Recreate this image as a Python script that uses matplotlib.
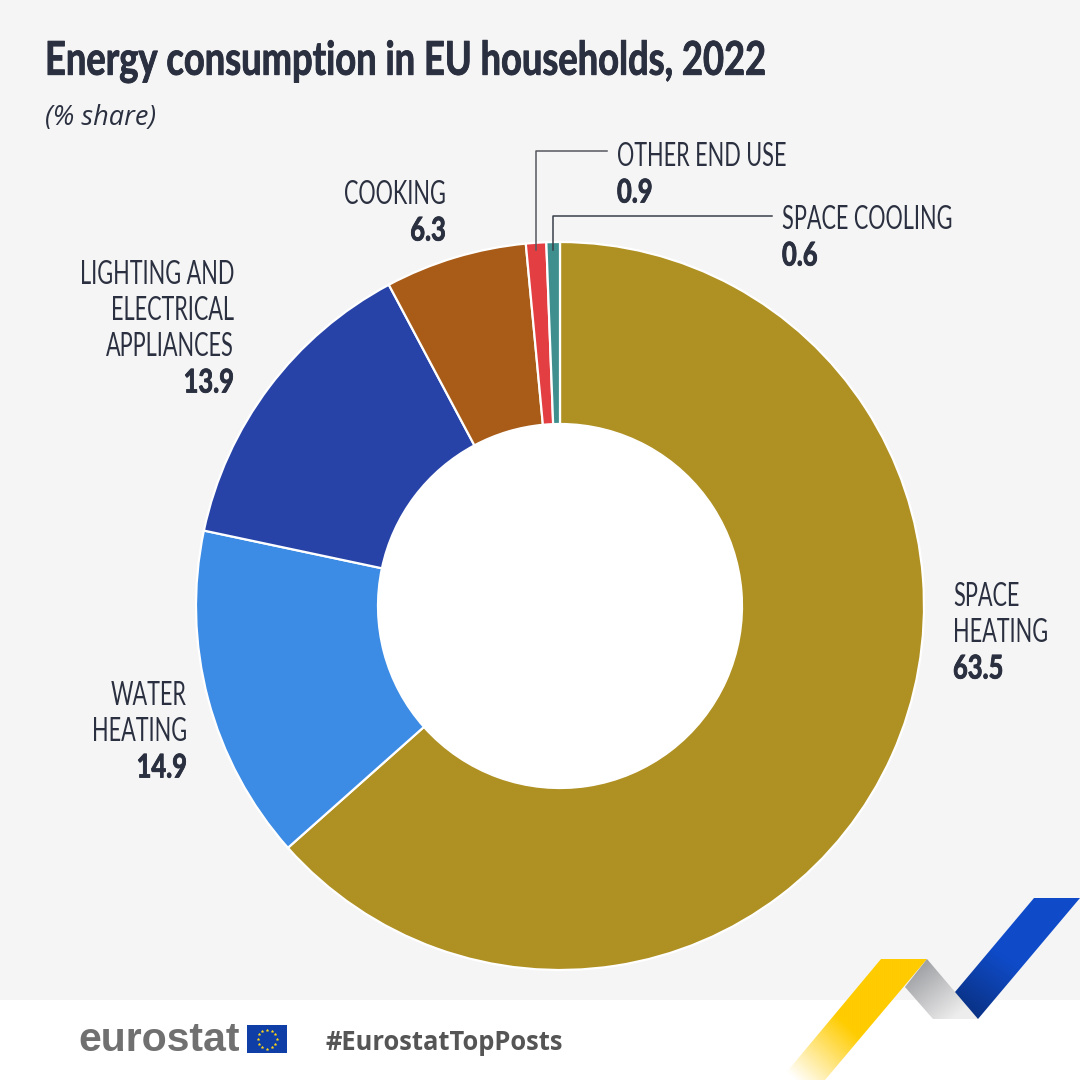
import matplotlib
matplotlib.use('Agg')
import matplotlib.pyplot as plt
from matplotlib import font_manager as fm
from matplotlib import patheffects as pe
from matplotlib.colors import LinearSegmentedColormap
from matplotlib.patches import Circle, Polygon, Rectangle
from fontTools.ttLib import TTFont
import numpy as np

# Energy consumption shares, clockwise from 12 o'clock
categories = ['SPACE\nHEATING', 'WATER\nHEATING', 'LIGHTING AND\nELECTRICAL\nAPPLIANCES',
              'COOKING', 'OTHER END USE', 'SPACE COOLING']
shares = [63.5, 14.9, 13.9, 6.3, 0.9, 0.6]
share_labels = ['63.5', '14.9', '13.9', '6.3', '0.9', '0.6']
colors = ['#AF9022', '#3C8BE4', '#2743A8', '#A85C18', '#E33E42', '#3F8F8F']


# no condensed family is installed, so make one by squeezing a static font
def condensed(family, weight, factor, out):
    path = fm.findfont(fm.FontProperties(family=family, weight=weight))
    font = TTFont(path)
    if 'fvar' in font or 'glyf' not in font:
        path = fm.findfont(fm.FontProperties(family='Liberation Sans', weight=weight))
        font = TTFont(path)
    glyf, hmtx = font['glyf'], font['hmtx']
    for tag in ['fpgm', 'prep', 'cvt ', 'hdmx', 'VDMX', 'LTSH']:
        if tag in font:
            del font[tag]
    for name in glyf.keys():
        g = glyf[name]
        if g.isComposite():
            for c in g.components:
                c.x = round(c.x * factor)
        elif g.numberOfContours > 0:
            g.coordinates.scale((factor, 1))
            g.coordinates.toInt()
        adv, lsb = hmtx[name]
        hmtx[name] = (round(adv * factor), round(lsb * factor))
    for name in glyf.keys():
        if glyf[name].numberOfContours != 0:
            glyf[name].recalcBounds(glyf)
    font.save(out)
    return fm.FontProperties(fname=out)


cond_reg = condensed('Lato', 'regular', 0.665, 'cond_regular.ttf')
cond_bold = condensed('Lato', 'bold', 0.78, 'cond_bold.ttf')

fig = plt.figure(figsize=(10.8, 10.8), dpi=100, facecolor='white')

# background layer in pixel coordinates
bg = fig.add_axes([0, 0, 1, 1])
bg.set_xlim(0, 1080)
bg.set_ylim(1080, 0)
bg.axis('off')
bg.add_patch(Rectangle((0, 0), 1080, 1000, color='#F5F5F5', lw=0))

# donut
cx, cy, r = 560, 606, 364
inner = 182
pie_ax = fig.add_axes([(cx - r) / 1080, 1 - (cy + r) / 1080, 2 * r / 1080, 2 * r / 1080])
pie_ax.add_patch(Circle((0, 0), inner / r, fc='white', ec='none', zorder=0))
pie_ax.pie(shares, colors=colors, startangle=90, counterclock=False, radius=1,
           wedgeprops=dict(width=1 - inner / r, edgecolor='white', linewidth=1.6))
pie_ax.set_xlim(-1, 1)
pie_ax.set_ylim(-1, 1)

# overlay for text, leader lines and logos
top = fig.add_axes([0, 0, 1, 1])
top.set_xlim(0, 1080)
top.set_ylim(1080, 0)
top.axis('off')
top.patch.set_alpha(0)

ink = '#2B3040'
heavier = [pe.withStroke(linewidth=0.6, foreground=ink)]
top.text(45, 61, 'Energy consumption in EU households, 2022', fontproperties=cond_bold,
         fontsize=33.5, color=ink, va='center', ha='left', path_effects=heavier)
top.text(45, 118, '(% share)', fontsize=19.5, style='italic', family='Open Sans',
         color=ink, va='center', ha='left')

# x, y of the last line's centre and alignment for each label block
label_pos = [(953, 669, 'left'), (187, 768, 'right'), (234, 383, 'right'),
             (446, 231, 'right'), (617, 193, 'left'), (782, 256, 'left')]
line_h = 36
for cat, val, (x, y, ha) in zip(categories, share_labels, label_pos):
    top.text(x, y, val, fontproperties=cond_bold, fontsize=23.5, color=ink, ha=ha, va='center',
             path_effects=heavier)
    lines = cat.split('\n')
    for i, s in enumerate(reversed(lines)):
        top.text(x, y - (i + 1) * line_h, s, fontproperties=cond_reg, fontsize=23.5, color=ink,
                 ha=ha, va='center')

top.plot([607, 536, 536], [151, 151, 250], color='#55585F', lw=1.1)
top.plot([772, 553, 553], [216, 216, 250], color='#3A3F4A', lw=1.1)


# ribbon logo
def ribbon(poly, stops, p0, p1):
    cmap = LinearSegmentedColormap.from_list('r', stops)
    xs = np.linspace(0, 1080, 540)
    ys = np.linspace(880, 1080, 200)
    X, Y = np.meshgrid(xs, ys)
    d = np.array(p1, float) - np.array(p0, float)
    t = ((X - p0[0]) * d[0] + (Y - p0[1]) * d[1]) / (d @ d)
    im = top.imshow(np.clip(t, 0, 1), cmap=cmap, extent=[0, 1080, 1080, 880],
                    aspect='auto', vmin=0, vmax=1, zorder=3, interpolation='bilinear')
    patch = Polygon(poly, closed=True, transform=top.transData, fc='none', ec='none')
    top.add_patch(patch)
    im.set_clip_path(patch)


ribbon([(881, 959), (927, 959), (825, 1080), (780, 1080)],
       ['#FFCC00', '#FFCC00', '#FFFFFF'], (900, 970), (795, 1080))
ribbon([(927, 959), (978, 1019), (933, 1019), (905, 987)],
       ['#A0A1A5', '#EEEEEE'], (915, 970), (955, 1019))
ribbon([(1034, 898), (1080, 898), (978, 1019), (955, 992)],
       ['#0F4BC8', '#0F4BC8', '#0A3285'], (1040, 900), (965, 1010))
top.set_xlim(0, 1080)
top.set_ylim(1080, 0)

# eurostat wordmark and flag
top.text(78, 1040, 'eurostat', fontsize=29.5, fontweight='bold', family='Liberation Sans',
         color='#707070', va='center', ha='left', zorder=4)
top.add_patch(Rectangle((247, 1025), 40, 28, color='#0F3FA6', lw=0, zorder=4))
angles = np.arange(12) * np.pi / 6
top.scatter(267 + 9.5 * np.cos(angles), 1039 + 9.5 * np.sin(angles), s=3.5, marker='*',
            color='#FFD617', lw=0.3, zorder=5)
top.text(326, 1043, '#EurostatTopPosts', fontsize=18.4, fontweight='bold', family='Open Sans',
         color='#555555', va='center', ha='left', zorder=4)

fig.savefig('out.png', dpi=100, facecolor='white')
